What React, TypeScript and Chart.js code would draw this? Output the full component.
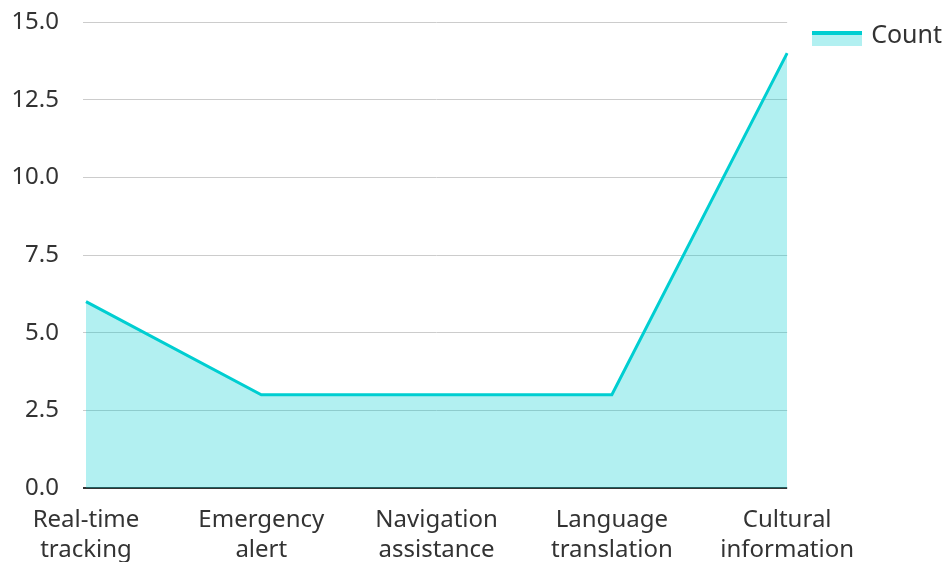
import { useEffect, useRef } from "react";
import { Chart, registerables } from "chart.js";

Chart.register(...registerables);

const categories = [
  "Real-time tracking",
  "Emergency alert",
  "Navigation assistance",
  "Language translation",
  "Cultural information",
];
const counts = [6, 3, 3, 3, 14];
const seriesName = "Count";
const yTicks = [0, 2.5, 5, 7.5, 10, 12.5, 15];

const LINE = "#00CED1";
const FILL = "rgba(0, 206, 209, 0.3)";
const TEXT = "#333333";
const GRID = "#cccccc";
const AXIS = "#333333";
const FONT = "'Noto Sans', sans-serif";

function splitLabel(s: string): string[] {
  const i = s.indexOf(" ");
  return i < 0 ? [s] : [s.slice(0, i), s.slice(i + 1)];
}

function legendSwatch(): HTMLCanvasElement {
  const c = document.createElement("canvas");
  c.width = 50;
  c.height = 25;
  const g = c.getContext("2d")!;
  g.fillStyle = FILL;
  g.fillRect(0, 8, 50, 15);
  g.fillStyle = LINE;
  g.fillRect(0, 8, 50, 4);
  return c;
}

export default function App() {
  const ref = useRef<HTMLCanvasElement | null>(null);

  useEffect(() => {
    if (!ref.current) return;
    const swatch = legendSwatch();
    const zeroAware = (on: any, off: any) => (ctx: any) =>
      ctx.tick && ctx.tick.value === 0 ? on : off;

    const chart = new Chart(ref.current, {
      type: "line",
      data: {
        labels: categories.map(splitLabel),
        datasets: [
          {
            label: seriesName,
            data: counts,
            borderColor: LINE,
            backgroundColor: FILL,
            borderWidth: 3,
            fill: "origin",
            tension: 0,
            pointRadius: 0,
            pointHoverRadius: 0,
          },
        ],
      },
      options: {
        responsive: false,
        animation: false,
        layout: { padding: { top: 5, right: 0, bottom: 5, left: 0 } },
        plugins: {
          tooltip: { enabled: false },
          legend: {
            position: "right",
            align: "start",
            labels: {
              usePointStyle: true,
              pointStyleWidth: 44,
              color: TEXT,
              font: { family: FONT, size: 25 },
              padding: 10,
              generateLabels: () => [
                {
                  text: seriesName,
                  pointStyle: swatch as any,
                  fillStyle: FILL,
                  strokeStyle: LINE,
                  lineWidth: 0,
                  hidden: false,
                  datasetIndex: 0,
                  fontColor: TEXT,
                } as any,
              ],
            },
          },
        },
        scales: {
          x: {
            grid: { display: false, drawTicks: false },
            border: { display: false },
            ticks: {
              color: TEXT,
              padding: 17,
              maxRotation: 0,
              autoSkip: false,
              font: { family: FONT, size: 24, lineHeight: 1.25 },
            },
            afterFit: (s: any) => {
              s.height = 77;
            },
          },
          y: {
            min: 0,
            max: 15,
            afterBuildTicks: (s: any) => {
              s.ticks = yTicks.map((v) => ({ value: v }));
            },
            grid: {
              color: zeroAware(AXIS, GRID),
              tickColor: zeroAware(AXIS, GRID),
              lineWidth: zeroAware(2, 1),
              tickLength: 3,
              drawTicks: true,
            },
            border: { display: false },
            ticks: {
              color: TEXT,
              padding: 24,
              font: { family: FONT, size: 24 },
              callback: (v: any) => Number(v).toFixed(1),
            },
            afterFit: (s: any) => {
              s.width = 78;
              s.paddingTop = 14;
              s.paddingBottom = 14;
            },
          },
          gap: {
            type: "linear",
            position: "right",
            display: true,
            grid: { display: false, drawTicks: false },
            border: { display: false },
            ticks: { display: false },
            afterFit: (s: any) => {
              s.width = 17.5;
              s.paddingTop = 0;
              s.paddingBottom = 0;
            },
          },
        } as any,
      },
    });
    return () => chart.destroy();
  }, []);

  return (
    <div style={{ position: "fixed", left: 8, top: 8, width: 944, height: 562 }}>
      <canvas ref={ref} width={944} height={562} style={{ width: 944, height: 562 }} />
    </div>
  );
}
